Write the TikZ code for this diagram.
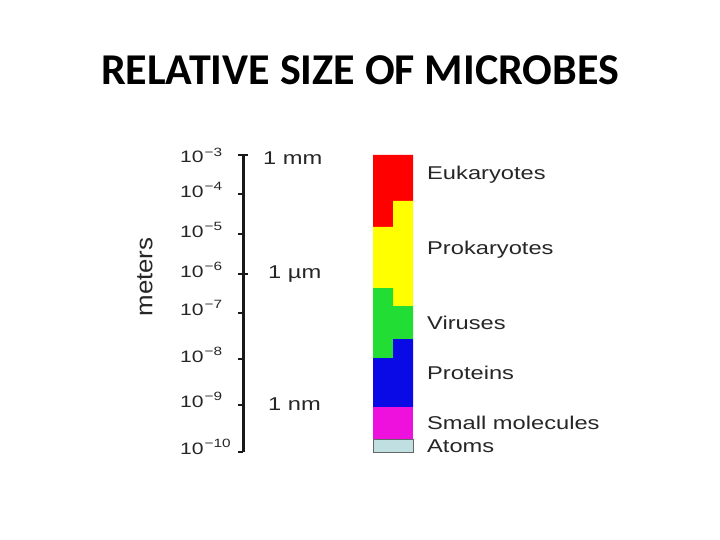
\documentclass[tikz,border=0pt]{standalone}
\usepackage{fontspec}
\setmainfont[FakeStretch=1.28]{Liberation Sans}
\newfontfamily\axisfont[FakeStretch=1.1]{Liberation Sans}
\newfontfamily\titlefont{Carlito}
\usetikzlibrary{positioning}

\definecolor{eukred}{RGB}{255,0,0}
\definecolor{proyellow}{RGB}{255,255,0}
\definecolor{virgreen}{RGB}{34,221,51}
\definecolor{protblue}{RGB}{10,10,230}
\definecolor{molmagenta}{RGB}{238,17,221}
\definecolor{atomcyan}{RGB}{191,223,224}

\newcommand{\powten}[1]{10\kern1pt\raisebox{0.42em}{\fontsize{12}{13}\selectfont −#1}}

\begin{document}
\begin{tikzpicture}[x=1pt, y=-1pt,
    powlab/.style={anchor=base west, inner sep=0pt, text=black!85, font=\fontsize{16.5}{18}\selectfont},
    unitlab/.style={anchor=west, inner sep=0pt, text=black!85, font=\fontsize{18.5}{20}\selectfont},
    grouplab/.style={anchor=west, inner sep=0pt, text=black!85, font=\fontsize{18.5}{20}\selectfont},
    scalemark/.style={line width=2pt, black!90}]
        \useasboundingbox (0,0) rectangle (720,540);
        % title
        \node[font=\titlefont\bfseries\fontsize{44}{48}\selectfont, inner sep=0pt] (title) at (360,70) {RELATIVE SIZE OF MICROBES};
        % axis
        \node[rotate=90, inner sep=0pt, text=black!85, font=\axisfont\fontsize{23.5}{26}\selectfont] (meters) at (145,277) {meters};
        \coordinate (top) at (243,155);
        \coordinate (bottom) at (243,452);
        \draw[line width=3pt, black!90] (top) -- (bottom);
        \foreach \e/\y/\b in {3/155/163, 4/194/197, 5/234/237, 6/274/277, 7/313/315, 8/359/362, 9/405/407, 10/452/454} {
            \node[powlab] (p\e) at (180,\b) {\powten{\e}};
            \draw[scalemark] (238,\y) -- (243,\y);
        }
        \draw[scalemark] (top) -- ++(5,0);
        \draw[scalemark] (243,274) -- ++(5,0);
        \node[unitlab] (mm) at (263,158) {1 mm};
        \node[unitlab] (um) at (268,274) {1 µm};
        \node[unitlab] (nm) at (268,404) {1 nm};
        % colour bar
        \fill[eukred] (373,155) -- (413,155) -- (413,201) -- (393,201) -- (393,227) -- (373,227) -- cycle;
        \fill[proyellow] (373,227) -- (393,227) -- (393,201) -- (413,201) -- (413,306) -- (393,306) -- (393,288) -- (373,288) -- cycle;
        \fill[virgreen] (373,288) -- (393,288) -- (393,306) -- (413,306) -- (413,339) -- (393,339) -- (393,358) -- (373,358) -- cycle;
        \fill[protblue] (373,358) -- (393,358) -- (393,339) -- (413,339) -- (413,407) -- (373,407) -- cycle;
        \fill[molmagenta] (373,407) rectangle (413,439);
        \filldraw[fill=atomcyan, draw=black!60, line width=0.8pt] (373,439) rectangle (413,452);
        % names
        \node[grouplab] (euk) at (427,175) {Eukaryotes};
        \node[grouplab] (pro) at (427,250) {Prokaryotes};
        \node[grouplab] (vir) at (427,323) {Viruses};
        \node[grouplab] (prot) at (427,373) {Proteins};
        \node[grouplab] (mol) at (427,423) {Small molecules};
        \node[grouplab] (atom) at (427,446) {Atoms};
\end{tikzpicture}
\end{document}
